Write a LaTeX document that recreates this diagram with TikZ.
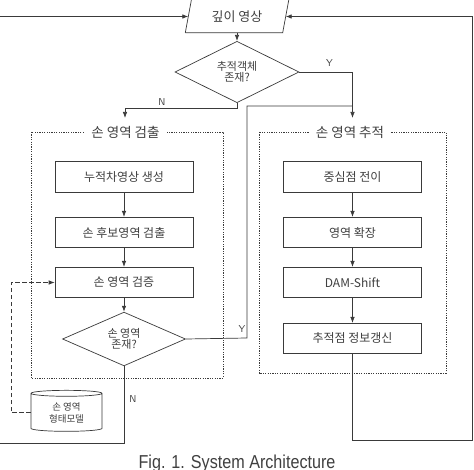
\documentclass[tikz,border=0pt]{standalone}
\usepackage{fontspec}
\setmainfont{Noto Sans CJK KR}
\newfontfamily\capfont{Liberation Sans}
\usetikzlibrary{shapes.geometric,arrows.meta,calc}
\definecolor{ln}{HTML}{3A3A3A}
\definecolor{tx}{HTML}{404040}
\begin{document}
\begin{tikzpicture}[x=1pt,y=-1pt,
  every node/.style={text=tx},
  proc/.style={draw=ln,line width=0.7pt,minimum width=138pt,minimum height=30.5pt,inner sep=0pt,font=\fontsize{12}{14}\selectfont},
  dec/.style={diamond,draw=ln,line width=0.7pt,minimum width=124pt,minimum height=42pt,inner sep=0pt,font=\fontsize{11}{13}\selectfont,align=center},
  grp/.style={draw=ln,line width=0.6pt,dash pattern=on 1.2pt off 1.2pt},
  grptitle/.style={fill=white,inner xsep=6pt,inner ysep=1pt,font=\fontsize{13.5}{15}\selectfont},
  lbl/.style={font=\sffamily\fontsize{10}{12}\selectfont,inner sep=0pt},
  con/.style={draw=ln,line width=0.7pt},
  arr/.style={con,-{Latex[length=6pt,width=4.5pt]}},
  darr/.style={arr,dash pattern=on 4.5pt off 2.5pt}]
\useasboundingbox (0,0) rectangle (474,470);
\fill[white] (0,0) rectangle (474,470);

% input parallelogram
\node[minimum width=97pt,minimum height=32pt,inner sep=0pt,font=\fontsize{13}{15}\selectfont] (img) at (237,16.5) {깊이 영상};
\draw[con] ($(img.south west)+(-3,0)$) -- ($(img.north west)+(4.5,-8)$)
  ($(img.north east)+(4.5,-8)$) -- ($(img.south east)+(-3,0)$) -- ($(img.south west)+(-3,0)$);

\node[dec] (d1) at (237,72) {추적객체\\[-2pt]존재?};

% group boxes
\draw[grp] (31,132) rectangle (223,378);
\node[grptitle] (t1) at (125.5,132) {손 영역 검출};
\draw[grp] (259,132) rectangle (446,373);
\node[grptitle] (t2) at (350,132) {손 영역 추적};

% left column
\node[proc] (L1) at (124,177) {누적차영상 생성};
\node[proc] (L2) at (124,232.5) {손 후보영역 검출};
\node[proc] (L3) at (124,282.5) {손 영역 검증};
\node[dec,minimum width=123pt] (d2) at (124,339) {손 영역\\[-2pt]존재?};

% right column
\node[proc] (R1) at (352.5,177) {중심점 전이};
\node[proc] (R2) at (352.5,232.5) {영역 확장};
\node[proc] (R3) at (352.5,282.5) {DAM-Shift};
\node[proc] (R4) at (352.5,338.5) {추적점 정보갱신};

% database
\node[cylinder,shape border rotate=90,aspect=0.17,draw=ln,line width=0.7pt,
  minimum width=71pt,minimum height=41pt,inner sep=0pt,align=center,
  font=\fontsize{9.5}{12}\selectfont] (db) at (66.5,412.5) {손 영역\\형태모델};

% coordinates
\coordinate (ytip) at (352.5,118);
\coordinate (ntip) at (125,118);
\coordinate (nj) at (237,108);
\coordinate (yj) at (247,338);
\coordinate (yt) at (247,106);
\coordinate (lb) at (124,443);
\coordinate (lc) at (-2,443);
\coordinate (lt) at (-2,16.5);
\coordinate (rb) at (352.5,440);
\coordinate (rc) at (472.5,440);
\coordinate (rt) at (472.5,16.5);
\coordinate (dbl) at (11,413);

% connectors
\draw[arr] (img.south) -- (d1.north);
\draw[arr] (d1.east) -| (ytip);
\draw[arr] (d1.south) -- (nj) -| (ntip);
\draw[arr] (L1) -- (L2);
\draw[arr] (L2) -- (L3);
\draw[arr] (L3) -- (d2.north);
\draw[con] (d2.east) -- (yj) -- (yt) -- (yt -| ytip);
\draw[arr] (d2.south) -- (lb) -- (lc) -- (lt) -- (img.west);
\draw[arr] (R1) -- (R2);
\draw[arr] (R2) -- (R3);
\draw[arr] (R3) -- (R4);
\draw[arr] (R4.south) -- (rb) -- (rc) -- (rt) -- (img.east);
\draw[darr] (db.west) -- (db.west -| dbl) |- (L3.west);

% labels
\node[lbl] (ly1) at (329.5,63) {Y};
\node[lbl] (ln1) at (162,102) {N};
\node[lbl] (ly2) at (242,329) {Y};
\node[lbl] (ln2) at (133,399) {N};

% caption
\node[font=\capfont\fontsize{17}{19}\selectfont,anchor=base,inner sep=0pt,xscale=0.95,yscale=1.1,transform shape] (cap) at (237,468.5) {Fig. 1. System Architecture};
\end{tikzpicture}
\end{document}
